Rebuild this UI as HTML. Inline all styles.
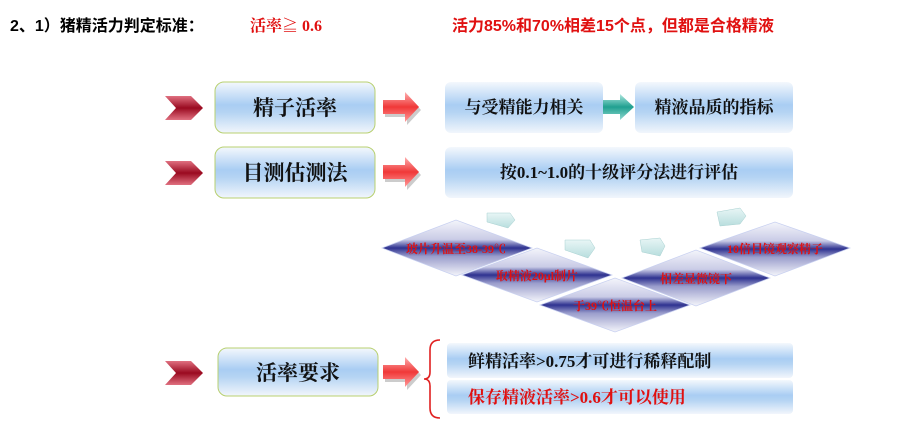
<!DOCTYPE html><html><head><meta charset="utf-8"><style>
body{margin:0;background:#fff;width:898px;height:444px;overflow:hidden}
svg{display:block}
text{font-family:"Liberation Serif","Noto Serif CJK SC","Noto Sans CJK SC",serif}
</style></head><body>
<svg width="898" height="444" viewBox="0 0 898 444">
<defs>
<linearGradient id="bx" x1="0" y1="0" x2="0" y2="1">
<stop offset="0" stop-color="#f4f8fd"/><stop offset="0.45" stop-color="#a9cdf3"/><stop offset="0.6" stop-color="#b5d4f3"/><stop offset="1" stop-color="#f2f6fc"/></linearGradient>
<linearGradient id="dm" x1="0" y1="0" x2="0" y2="1">
<stop offset="0" stop-color="#f4f5fb"/><stop offset="0.35" stop-color="#c9cbe6"/><stop offset="0.5" stop-color="#2e3290"/><stop offset="0.65" stop-color="#9a9dcc"/><stop offset="1" stop-color="#f4f5fb"/></linearGradient>
<linearGradient id="ra" x1="0" y1="0" x2="0" y2="1">
<stop offset="0" stop-color="#ffb0b0"/><stop offset="0.5" stop-color="#f03838"/><stop offset="1" stop-color="#ff9a9a"/></linearGradient>
<linearGradient id="ch" x1="0" y1="0" x2="0" y2="1">
<stop offset="0" stop-color="#e07080"/><stop offset="0.5" stop-color="#9a0a20"/><stop offset="1" stop-color="#e07080"/></linearGradient>
<linearGradient id="ta" x1="0" y1="0" x2="0" y2="1">
<stop offset="0" stop-color="#b0e8e0"/><stop offset="0.5" stop-color="#20a090"/><stop offset="1" stop-color="#90d8d0"/></linearGradient>
<linearGradient id="sa" x1="0" y1="0" x2="0" y2="1">
<stop offset="0" stop-color="#e8f6f6"/><stop offset="1" stop-color="#b8dede"/></linearGradient>
<g id="chev"><polygon points="0,0 26,0 38,12 26,24 0,24 11,12" fill="url(#ch)"/></g>
<g id="rar"><polygon points="2,11 24,11 24,3 38,18 24,33 24,25 2,25" fill="#ccc"/><polygon points="0,8 22,8 22,0 36,15 22,30 22,22 0,22" fill="url(#ra)"/></g>
</defs>
<text x="10" y="31" font-size="16" font-weight="bold" style="font-family:'Liberation Sans','Noto Sans CJK SC',sans-serif">2、1）猪精活力判定标准：</text>
<text x="250" y="31" font-size="16" font-weight="bold" fill="#e01010">活率≧ 0.6</text>
<text x="452" y="31" font-size="16" font-weight="bold" fill="#e01010" style="font-family:'Liberation Sans','Noto Sans CJK SC',sans-serif">活力85%和70%相差15个点，但都是合格精液</text>

<use href="#chev" x="165" y="96"/>
<use href="#chev" x="165" y="161"/>
<use href="#chev" x="165" y="361"/>

<rect x="215" y="82" width="160" height="51" rx="9" fill="url(#bx)" stroke="#b8d070"/>
<text x="295" y="115" font-size="21" font-weight="bold" text-anchor="middle" fill="#111">精子活率</text>
<rect x="215" y="147" width="160" height="51" rx="9" fill="url(#bx)" stroke="#b8d070"/>
<text x="295" y="180" font-size="21" font-weight="bold" text-anchor="middle" fill="#111">目测估测法</text>
<rect x="218" y="348" width="160" height="48" rx="9" fill="url(#bx)" stroke="#b8d070"/>
<text x="298" y="380" font-size="21" font-weight="bold" text-anchor="middle" fill="#111">活率要求</text>

<use href="#rar" x="383" y="92"/>
<use href="#rar" x="383" y="157"/>
<use href="#rar" x="383" y="357"/>

<rect x="445" y="82" width="158" height="51" rx="6" fill="url(#bx)"/>
<text x="524" y="113" font-size="17" font-weight="bold" text-anchor="middle" fill="#111">与受精能力相关</text>
<polygon points="603,100 620,100 620,94 634,107 620,120 620,114 603,114" fill="url(#ta)"/>
<rect x="635" y="82" width="158" height="51" rx="6" fill="url(#bx)"/>
<text x="714" y="113" font-size="17" font-weight="bold" text-anchor="middle" fill="#111">精液品质的指标</text>
<rect x="445" y="147" width="348" height="51" rx="6" fill="url(#bx)"/>
<text x="619" y="178" font-size="17" font-weight="bold" text-anchor="middle" fill="#111">按0.1~1.0的十级评分法进行评估</text>

<g font-size="12" font-weight="bold" fill="#e01010" text-anchor="middle">
<polygon points="382,248 456,220 532,248 456,276" fill="url(#dm)" stroke="#c8d0f0" stroke-width="0.7"/>
<text x="456" y="253">玻片升温至38-39℃</text>
<polygon points="462,275 537,248 612,275 537,302" fill="url(#dm)" stroke="#c8d0f0" stroke-width="0.7"/>
<text x="537" y="280">取精液20μl制片</text>
<polygon points="540,305 615,278 690,305 615,332" fill="url(#dm)" stroke="#c8d0f0" stroke-width="0.7"/>
<text x="615" y="310">于39℃恒温台上</text>
<polygon points="622,278 696,250 770,278 696,306" fill="url(#dm)" stroke="#c8d0f0" stroke-width="0.7"/>
<text x="696" y="283">相差显微镜下</text>
<polygon points="700,248 775,222 850,248 775,276" fill="url(#dm)" stroke="#c8d0f0" stroke-width="0.7"/>
<text x="775" y="253">10倍目镜观察精子</text>
</g>
<g fill="url(#sa)" stroke="#a8d0d0" stroke-width="0.5">
<polygon points="487,213 510,213 515,220 508,228 487,222"/>
<polygon points="565,240 590,240 595,248 588,258 565,250"/>
<polygon points="640,240 660,238 665,246 660,256 642,252"/>
<polygon points="717,212 740,208 746,216 740,224 720,226"/>
</g>

<path d="M440,340 Q430,340 430,350 L430,372 Q430,379 424,379 Q430,379 430,386 L430,408 Q430,418 440,418" fill="none" stroke="#e02020" stroke-width="1.6"/>
<rect x="447" y="343" width="346" height="35" rx="4" fill="url(#bx)"/>
<text x="468" y="367" font-size="17" font-weight="bold" fill="#111">鲜精活率&gt;0.75才可进行稀释配制</text>
<rect x="447" y="380" width="346" height="34" rx="4" fill="url(#bx)"/>
<text x="468" y="403" font-size="17" font-weight="bold" fill="#e01010">保存精液活率&gt;0.6才可以使用</text>
</svg>
</body></html>
